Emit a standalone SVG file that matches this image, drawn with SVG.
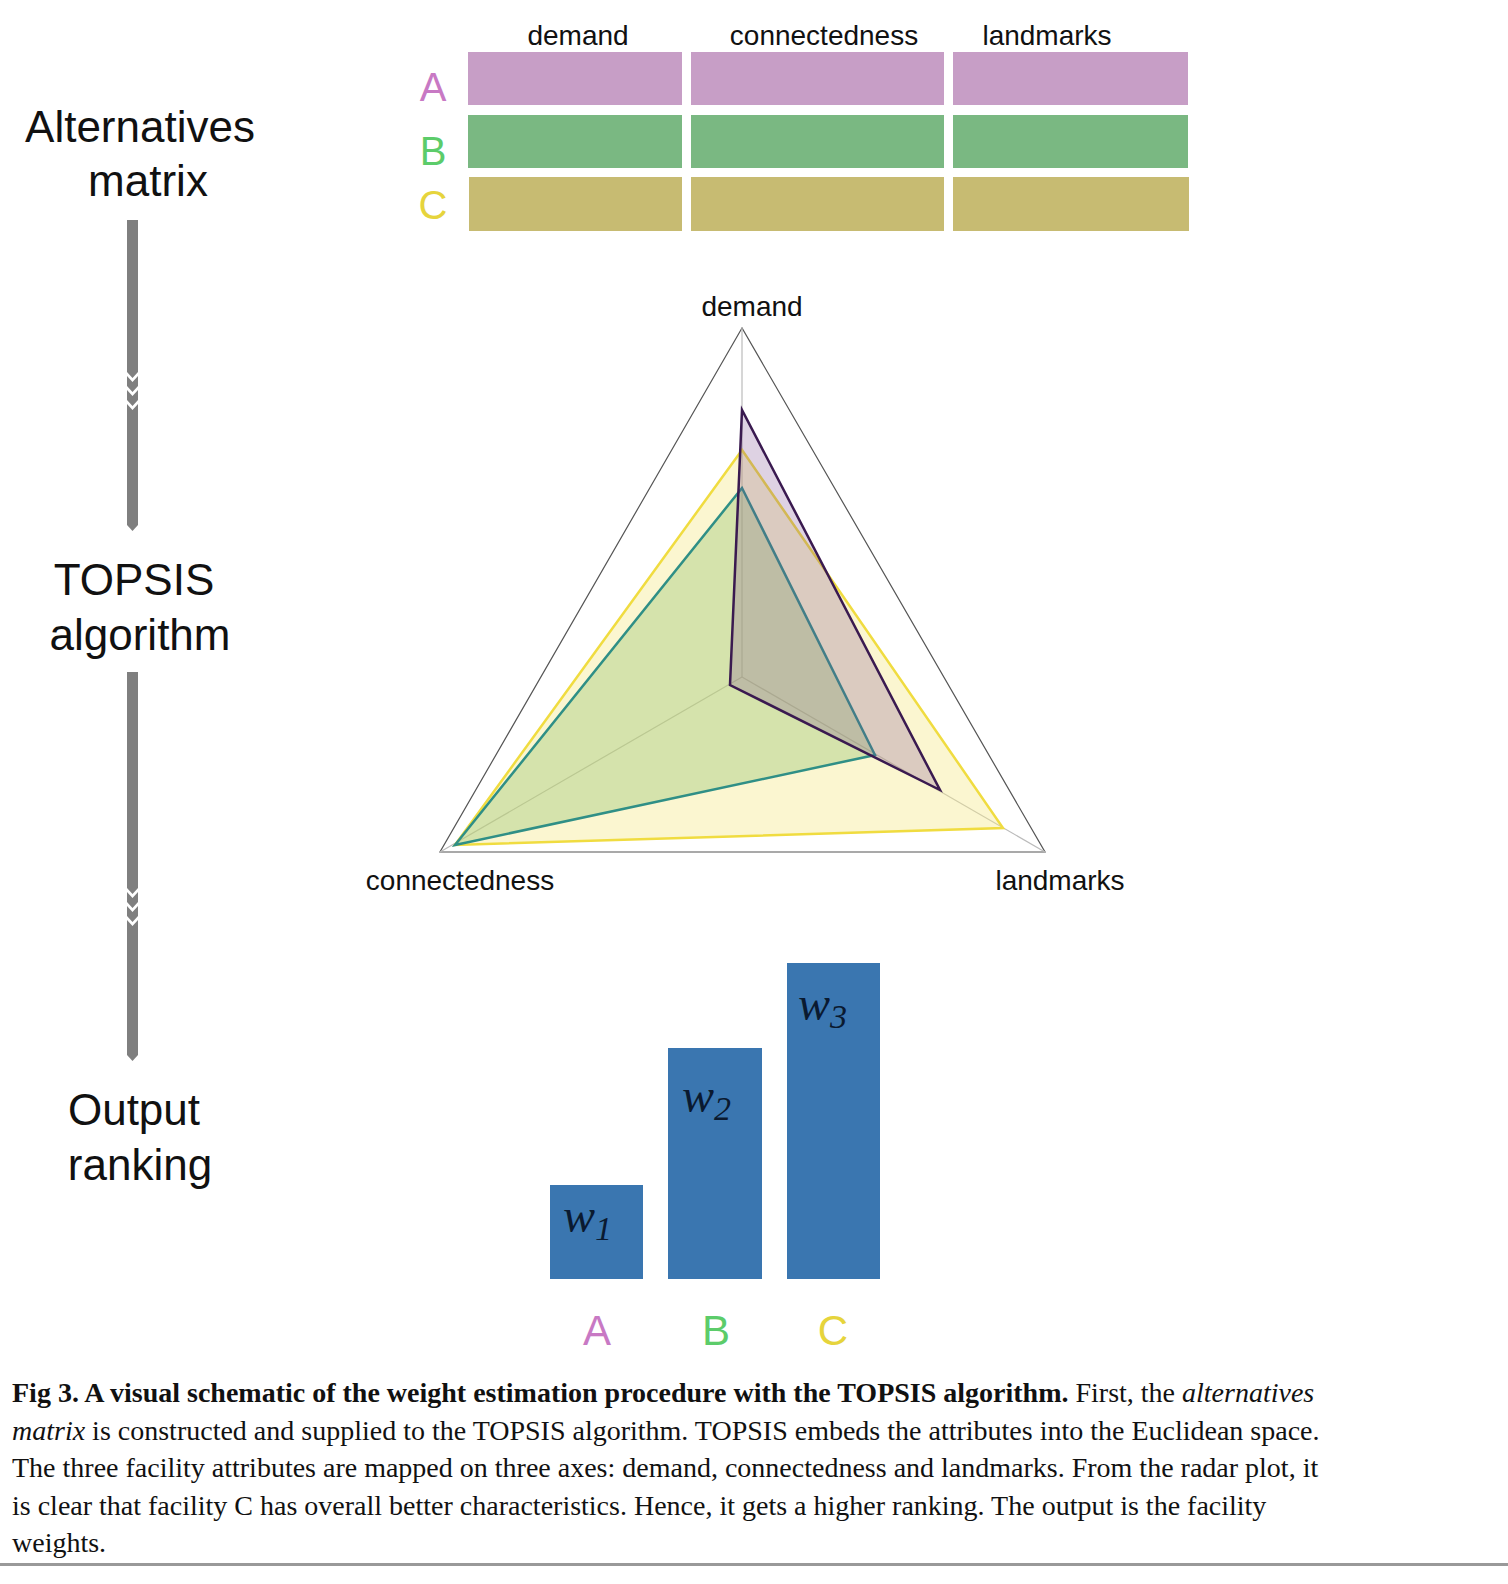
<svg xmlns="http://www.w3.org/2000/svg" width="1508" height="1584" viewBox="0 0 1508 1584">
<style>
.s{font-family:"Liberation Sans",Arial,sans-serif;fill:#111}
.cap{font-family:"Liberation Serif","Times New Roman",serif;font-size:28px;fill:#111}
.w{font-family:"Liberation Serif",serif;font-style:italic;font-size:48px;fill:#0a1a30}
.sub{font-family:"Liberation Serif",serif;font-size:34px;fill:#0a1a30}
.ca{fill:#c79ec6}.cb{fill:#7ab882}.cc{fill:#c7bb72}
.bar{fill:#3a76b0}
</style>
<rect width="1508" height="1584" fill="#fff"/>
<g id="labels-left">
<text class="s" x="140" y="142" font-size="44" text-anchor="middle">Alternatives</text>
<text class="s" x="148" y="196" font-size="44" text-anchor="middle">matrix</text>
<text class="s" x="134" y="595" font-size="44" text-anchor="middle">TOPSIS</text>
<text class="s" x="140" y="650" font-size="44" text-anchor="middle">algorithm</text>
<text class="s" x="134" y="1125" font-size="44" text-anchor="middle">Output</text>
<text class="s" x="140" y="1180" font-size="44" text-anchor="middle">ranking</text>
</g>
<g id="connectors" fill="#7f7f7f">
<rect x="127" y="220" width="11" height="305"/>
<polygon points="127,525 138,525 132.5,531"/>
<rect x="127" y="672" width="11" height="383"/>
<polygon points="127,1055 138,1055 132.5,1061"/>
<g fill="#fff">
<polygon points="127,372 132.5,378 138,372 138,376 132.5,382 127,376"/>
<polygon points="127,386 132.5,392 138,386 138,390 132.5,396 127,390"/>
<polygon points="127,400 132.5,406 138,400 138,404 132.5,410 127,404"/>
<polygon points="127,888 132.5,894 138,888 138,892 132.5,898 127,892"/>
<polygon points="127,902 132.5,908 138,902 138,906 132.5,912 127,906"/>
<polygon points="127,916 132.5,922 138,916 138,920 132.5,926 127,920"/>
</g>
</g>
<g id="matrix">
<text class="s" x="578" y="45" font-size="28" text-anchor="middle">demand</text>
<text class="s" x="824" y="45" font-size="28" text-anchor="middle">connectedness</text>
<text class="s" x="1047" y="45" font-size="28" text-anchor="middle">landmarks</text>
<text x="433" y="101" font-size="40" text-anchor="middle" font-family="Liberation Sans,sans-serif" fill="#c879c4">A</text>
<text x="433" y="165" font-size="40" text-anchor="middle" font-family="Liberation Sans,sans-serif" fill="#5ccc6a">B</text>
<text x="433" y="219" font-size="40" text-anchor="middle" font-family="Liberation Sans,sans-serif" fill="#e6d43c">C</text>
<rect class="ca" x="468" y="52" width="214" height="53"/><rect class="ca" x="691" y="52" width="253" height="53"/><rect class="ca" x="953" y="52" width="235" height="53"/>
<rect class="cb" x="468" y="115" width="214" height="53"/><rect class="cb" x="691" y="115" width="253" height="53"/><rect class="cb" x="953" y="115" width="235" height="53"/>
<rect class="cc" x="469" y="177" width="213" height="54"/><rect class="cc" x="691" y="177" width="253" height="54"/><rect class="cc" x="953" y="177" width="236" height="54"/>
</g>
<g id="radar">
<polygon points="742,328 440,852 1045,852" fill="none" stroke="#555" stroke-width="1.2"/>
<g stroke="#bbb" stroke-width="1.2"><line x1="742" y1="677" x2="742" y2="328"/><line x1="742" y1="677" x2="440" y2="852"/><line x1="742" y1="677" x2="1045" y2="852"/></g>
<polygon points="742,450 455,845 1003,828" fill="#f6e98a" fill-opacity="0.4" stroke="#f0dc40" stroke-width="2.5"/>
<polygon points="742,488 455,845 875,755" fill="#8fbf6a" fill-opacity="0.35" stroke="#2f8f86" stroke-width="2.5"/>
<polygon points="742,410 730,685 940,790" fill="#7a4a90" fill-opacity="0.25" stroke="#3a1a50" stroke-width="2.5"/>
<text class="s" x="752" y="316" font-size="28" text-anchor="middle">demand</text>
<text class="s" x="460" y="890" font-size="28" text-anchor="middle">connectedness</text>
<text class="s" x="1060" y="890" font-size="28" text-anchor="middle">landmarks</text>
</g>
<g id="bars">
<rect class="bar" x="550" y="1185" width="93" height="94"/>
<rect class="bar" x="668" y="1048" width="94" height="231"/>
<rect class="bar" x="787" y="963" width="93" height="316"/>
<text class="w" x="563" y="1232">w<tspan class="sub" dy="8">1</tspan></text>
<text class="w" x="682" y="1112">w<tspan class="sub" dy="8">2</tspan></text>
<text class="w" x="798" y="1020">w<tspan class="sub" dy="8">3</tspan></text>
<text x="597" y="1345" font-size="42" text-anchor="middle" font-family="Liberation Sans,sans-serif" fill="#c879c4">A</text>
<text x="716" y="1345" font-size="42" text-anchor="middle" font-family="Liberation Sans,sans-serif" fill="#5ccc6a">B</text>
<text x="833" y="1345" font-size="42" text-anchor="middle" font-family="Liberation Sans,sans-serif" fill="#e6d43c">C</text>
</g>
<g id="caption">
<text class="cap" x="12" y="1402"><tspan font-weight="bold">Fig 3.  A visual schematic of the weight estimation procedure with the TOPSIS algorithm.</tspan> First, the <tspan font-style="italic">alternatives</tspan></text>
<text class="cap" x="12" y="1440"><tspan font-style="italic">matrix</tspan> is constructed and supplied to the TOPSIS algorithm. TOPSIS embeds the attributes into the Euclidean space.</text>
<text class="cap" x="12" y="1477">The three facility attributes are mapped on three axes: demand, connectedness and landmarks. From the radar plot, it</text>
<text class="cap" x="12" y="1515">is clear that facility C has overall better characteristics. Hence, it gets a higher ranking. The output is the facility</text>
<text class="cap" x="12" y="1552">weights.</text>
<rect x="0" y="1563" width="1508" height="3" fill="#999"/>
</g>
</svg>
